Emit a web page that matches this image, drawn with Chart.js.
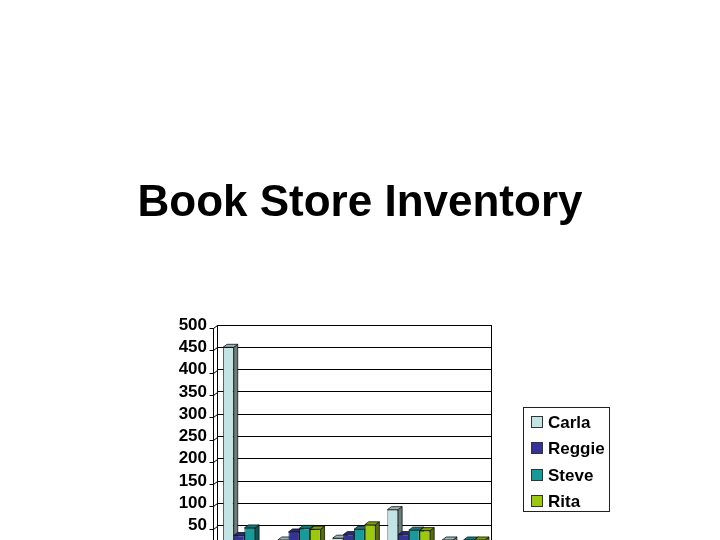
<!DOCTYPE html>
<html>
<head>
<meta charset="utf-8">
<script src="https://cdn.jsdelivr.net/npm/chart.js@4.4.1/dist/chart.umd.min.js"></script>
<style>
  html, body { margin: 0; padding: 0; background: #fff; }
  #wrap { position: relative; width: 720px; height: 540px; overflow: hidden; }
  #chart { position: absolute; left: 0; top: 0; }
  #title {
    position: absolute; left: 0; top: 175px; width: 720px; text-align: center;
    font-family: "Liberation Sans", Arial, sans-serif; font-weight: bold; font-size: 44px;
    line-height: 52px; color: #000;
  }
  #legend {
    position: absolute; left: 523px; top: 407px; width: 87px; height: 105px;
    border: 1px solid #222; box-sizing: border-box; padding-top: 2px;
    font-family: "Liberation Sans", Arial, sans-serif; font-weight: bold; font-size: 17px;
  }
  #legend div { height: 26.3px; line-height: 26px; white-space: nowrap; }
  #legend span.sw {
    display: inline-block; width: 10px; height: 10px; border: 1px solid #333;
    margin: 0 5px 0 7px; vertical-align: 0px;
  }
</style>
</head>
<body>
<div id="wrap">
  <canvas id="chart" width="720" height="600"></canvas>
  <div id="title">Book Store Inventory</div>
  <div id="legend"></div>
</div>
<script>
// categories are cut off at the bottom of the picture
const categories = ['1', '2', '3', '4', '5']
const seriesNames = ['Carla', 'Reggie', 'Steve', 'Rita']
const carla = [450, 18, 22, 86, 18]
const reggie = [28, 36, 30, 30, 8]
const steve = [45, 44, 42, 40, 18]
const rita = [8, 42, 52, 39, 18]
const yTicks = [0, 50, 100, 150, 200, 250, 300, 350, 400, 450, 500]

const colors = ['#c2e4e4', '#333399', '#169a9a', '#9cc80e']
const values = [carla, reggie, steve, rita]
const FONT = '"Liberation Sans", Arial, sans-serif'

function shade(hex, f) {
    const n = parseInt(hex.slice(1), 16)
    const r = Math.round(((n >> 16) & 255) * f)
    const g = Math.round(((n >> 8) & 255) * f)
    const b = Math.round((n & 255) * f)
    return `rgb(${r},${g},${b})`
}

// fake 3D: left wall, frame, and side/top faces behind each bar front
const depthPlugin = {
    id: 'depth',
    beforeDatasetsDraw(chart) {
        const ctx = chart.ctx
        const dx = 4, dy = 3
        const area = chart.chartArea
        const yScale = chart.scales.y
        ctx.save()
        ctx.strokeStyle = '#000'
        ctx.lineWidth = 1
        ctx.beginPath()
        // right border and back corner of the plot frame
        ctx.moveTo(area.right + 0.5, area.top)
        ctx.lineTo(area.right + 0.5, area.bottom)
        ctx.moveTo(area.left + 0.5, area.top)
        ctx.lineTo(area.left + 0.5, area.bottom)
        // front edge of the left wall
        const fx = area.left - dx + 0.5
        ctx.moveTo(fx, area.top + dy)
        ctx.lineTo(fx, area.bottom + dy)
        yTicks.forEach(v => {
            const y = Math.round(yScale.getPixelForValue(v)) + 0.5
            ctx.moveTo(fx, y + dy)
            ctx.lineTo(area.left + 0.5, y)
            ctx.moveTo(fx - 4, y + dy)
            ctx.lineTo(fx, y + dy)
        })
        ctx.stroke()

        ctx.lineWidth = 0.8
        ctx.strokeStyle = '#111'
        chart.data.datasets.forEach((ds, i) => {
            const meta = chart.getDatasetMeta(i)
            meta.data.forEach(bar => {
                const l = bar.x - bar.width / 2
                const r = bar.x + bar.width / 2
                const t = bar.y
                const b = bar.base
                ctx.fillStyle = shade(colors[i], 0.55)
                ctx.beginPath()
                ctx.moveTo(r, t)
                ctx.lineTo(r + dx, t - dy)
                ctx.lineTo(r + dx, b - dy)
                ctx.lineTo(r, b)
                ctx.closePath()
                ctx.fill()
                ctx.stroke()
                ctx.fillStyle = shade(colors[i], 0.8)
                ctx.beginPath()
                ctx.moveTo(l, t)
                ctx.lineTo(l + dx, t - dy)
                ctx.lineTo(r + dx, t - dy)
                ctx.lineTo(r, t)
                ctx.closePath()
                ctx.fill()
                ctx.stroke()
            })
        })
        ctx.restore()
    }
}

const legendEl = document.getElementById('legend')
seriesNames.forEach((name, i) => {
    const row = document.createElement('div')
    row.innerHTML = `<span class="sw" style="background:${colors[i]}"></span>${name}`
    legendEl.appendChild(row)
})

const ctx = document.getElementById('chart').getContext('2d')
new Chart(ctx, {
    type: 'bar',
    data: {
        labels: categories,
        datasets: seriesNames.map((name, i) => ({
            label: name,
            data: values[i],
            backgroundColor: colors[i],
            borderColor: '#111',
            borderWidth: 0.8,
            categoryPercentage: 0.78,
            barPercentage: 1.0
        }))
    },
    options: {
        responsive: false,
        animation: false,
        layout: { padding: { left: 0, right: 229, top: 325, bottom: 52 } },
        plugins: {
            legend: { display: false },
            tooltip: { enabled: false },
            title: { display: false }
        },
        scales: {
            x: { display: false },
            y: {
                min: 0,
                max: 500,
                afterFit(scale) { scale.width = 217 },
                afterBuildTicks(scale) { scale.ticks = yTicks.map(v => ({ value: v })) },
                grid: { color: '#000', lineWidth: 1, drawTicks: false },
                border: { display: false },
                ticks: {
                    autoSkip: false,
                    color: '#000',
                    padding: 10,
                    font: { family: FONT, size: 17, weight: 'bold' }
                }
            }
        }
    },
    plugins: [depthPlugin]
})
</script>
</body>
</html>
